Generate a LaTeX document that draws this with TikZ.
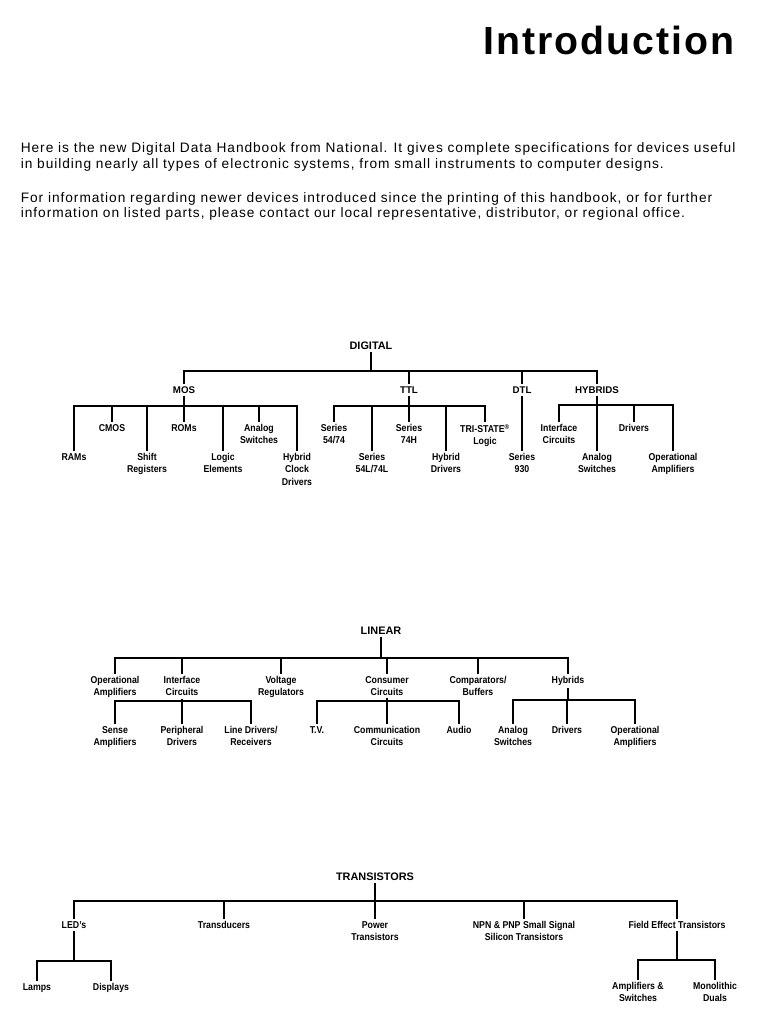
\documentclass[tikz,border=0pt]{standalone}
\usepackage{fontspec}
\setmainfont{Liberation Sans}
\newfontfamily\bodyfont[LetterSpace=7]{Liberation Sans}
\newfontfamily\itemfont[FakeStretch=0.88]{Liberation Sans Bold}
\newfontfamily\headfont{Liberation Sans Bold}
\newfontfamily\titlefont[LetterSpace=5]{Liberation Sans Bold}
\usetikzlibrary{positioning}

\begin{document}
\begin{tikzpicture}[x=0.03cm, y=-0.03cm, line width=1.4pt,
    head/.style={font=\headfont\fontsize{9.3}{11}\selectfont, inner sep=1.5pt, anchor=north},
    grp/.style={font=\headfont\fontsize{8.3}{10}\selectfont, inner sep=1.5pt, anchor=north},
    item/.style={font=\itemfont\fontsize{8.5}{10.4}\selectfont, align=center, inner sep=1.5pt, anchor=north},
    body/.style={font=\bodyfont\fontsize{11.7}{12}\selectfont, inner sep=0pt, anchor=base west}]
    \fill[white] (0,0) rectangle (768,1024);
    \useasboundingbox (0,0) rectangle (768,1024);

    \node[anchor=base east, inner sep=0pt, font=\titlefont\fontsize{33.5}{40}\selectfont] (title) at (735,54) {Introduction};
    \node[body] (p1a) at (20,152) {Here is the new Digital Data Handbook from National. It gives complete specifications for devices useful};
    \node[body] (p1b) at (20,168) {in building nearly all types of electronic systems, from small instruments to computer designs.};
    \node[body] (p2a) at (20,202) {For information regarding newer devices introduced since the printing of this handbook, or for further};
    \node[body] (p2b) at (20,217) {information on listed parts, please contact our local representative, distributor, or regional office.};

    % digital
    \node[head] (digital) at (371,339) {DIGITAL};
    \node[grp] (mos) at (184,384) {MOS};
    \node[grp] (ttl) at (409,384) {TTL};
    \node[grp] (dtl) at (522,384) {DTL};
    \node[grp] (hyb) at (597,384) {HYBRIDS};
    \coordinate (dbar) at (371,371);
    \coordinate (mosbar) at (184,406);
    \coordinate (ttlbar) at (409,406);
    \coordinate (hybbar) at (597,405);

    \node[item] (rams) at (74,451) {RAMs};
    \node[item] (cmos) at (112,422) {CMOS};
    \node[item] (shift) at (147,451) {Shift\\Registers};
    \node[item] (roms) at (184,422) {ROMs};
    \node[item] (logic) at (223,451) {Logic\\Elements};
    \node[item] (analog) at (259,422) {Analog\\Switches};
    \node[item] (hcd) at (297,451) {Hybrid\\Clock\\Drivers};
    \node[item] (s5474) at (334,422) {Series\\54/74};
    \node[item] (s54l) at (372,451) {Series\\54L/74L};
    \node[item] (s74h) at (409,422) {Series\\74H};
    \node[item] (hdrv) at (446,451) {Hybrid\\Drivers};
    \node[item] (tri) at (485,422) {TRI-STATE\textsuperscript{\textregistered}\\Logic};
    \node[item] (s930) at (522,451) {Series\\930};
    \node[item] (hint) at (559,422) {Interface\\Circuits};
    \node[item] (hana) at (597,451) {Analog\\Switches};
    \node[item] (hdrv2) at (634,422) {Drivers};
    \node[item] (hopa) at (673,451) {Operational\\Amplifiers};

    \draw (digital) -- (dbar);
    \draw (mos) -- (mos |- dbar) -- (hyb |- dbar) -- (hyb);
    \draw (ttl) -- (ttl |- dbar);
    \draw (dtl) -- (dtl |- dbar);
    \draw (mos) -- (mosbar);
    \draw (rams) -- (rams |- mosbar) -- (hcd |- mosbar) -- (hcd);
    \foreach \n in {cmos, shift, roms, logic, analog}
      \draw (\n) -- (\n |- mosbar);
    \draw (ttl) -- (ttlbar);
    \draw (s5474) -- (s5474 |- ttlbar) -- (tri |- ttlbar) -- (tri);
    \foreach \n in {s54l, s74h, hdrv}
      \draw (\n) -- (\n |- ttlbar);
    \draw (dtl) -- (s930);
    \draw (hyb) -- (hybbar);
    \draw (hint) -- (hint |- hybbar) -- (hopa |- hybbar) -- (hopa);
    \foreach \n in {hana, hdrv2}
      \draw (\n) -- (\n |- hybbar);

    % linear
    \node[head] (linear) at (381,624) {LINEAR};
    \coordinate (lbar) at (381,658);
    \node[item] (lopa) at (115,674) {Operational\\Amplifiers};
    \node[item] (lint) at (182,674) {Interface\\Circuits};
    \node[item] (lvr) at (281,674) {Voltage\\Regulators};
    \node[item] (lcon) at (387,674) {Consumer\\Circuits};
    \node[item] (lcmp) at (478,674) {Comparators/\\Buffers};
    \node[item] (lhyb) at (568,674) {Hybrids};
    \coordinate (intbar) at (182,701);
    \coordinate (conbar) at (387,701);
    \coordinate (lhybbar) at (568,700);
    \node[item] (lsense) at (115,724) {Sense\\Amplifiers};
    \node[item] (lper) at (182,724) {Peripheral\\Drivers};
    \node[item] (lline) at (251,724) {Line Drivers/\\Receivers};
    \node[item] (ltv) at (317,724) {T.V.};
    \node[item] (lcom) at (387,724) {Communication\\Circuits};
    \node[item] (laud) at (459,724) {Audio};
    \node[item] (lana) at (513,724) {Analog\\Switches};
    \node[item] (ldrv) at (567,724) {Drivers};
    \node[item] (lopa2) at (635,724) {Operational\\Amplifiers};

    \draw (linear) -- (lbar);
    \draw (lopa) -- (lopa |- lbar) -- (lhyb |- lbar) -- (lhyb);
    \foreach \n in {lint, lvr, lcon, lcmp}
      \draw (\n) -- (\n |- lbar);
    \draw (lint) -- (intbar);
    \draw (lsense) -- (lsense |- intbar) -- (lline |- intbar) -- (lline);
    \draw (lper) -- (lper |- intbar);
    \draw (lcon) -- (conbar);
    \draw (ltv) -- (ltv |- conbar) -- (laud |- conbar) -- (laud);
    \draw (lcom) -- (lcom |- conbar);
    \draw (lhyb) -- (lhybbar);
    \draw (lana) -- (lana |- lhybbar) -- (lopa2 |- lhybbar) -- (lopa2);
    \draw (ldrv) -- (ldrv |- lhybbar);

    % transistors
    \node[head] (trans) at (375,870) {TRANSISTORS};
    \coordinate (tbar) at (375,901);
    \node[item] (led) at (74,919) {LED’s};
    \node[item] (tdu) at (224,919) {Transducers};
    \node[item] (pow) at (375,919) {Power\\Transistors};
    \node[item] (npn) at (524,919) {NPN \& PNP Small Signal\\Silicon Transistors};
    \node[item] (fet) at (677,919) {Field Effect Transistors};
    \coordinate (ledbar) at (74,961);
    \coordinate (fetbar) at (677,960);
    \node[item] (lamps) at (37,981) {Lamps};
    \node[item] (disp) at (111,981) {Displays};
    \node[item] (ampsw) at (638,980) {Amplifiers \&\\Switches};
    \node[item] (mono) at (715,980) {Monolithic\\Duals};

    \draw (trans) -- (tbar);
    \draw (led) -- (led |- tbar) -- (fet |- tbar) -- (fet);
    \foreach \n in {tdu, pow, npn}
      \draw (\n) -- (\n |- tbar);
    \draw (led) -- (ledbar);
    \draw (lamps) -- (lamps |- ledbar) -- (disp |- ledbar) -- (disp);
    \draw (fet) -- (fetbar);
    \draw (ampsw) -- (ampsw |- fetbar) -- (mono |- fetbar) -- (mono);
  \end{tikzpicture}
\end{document}
